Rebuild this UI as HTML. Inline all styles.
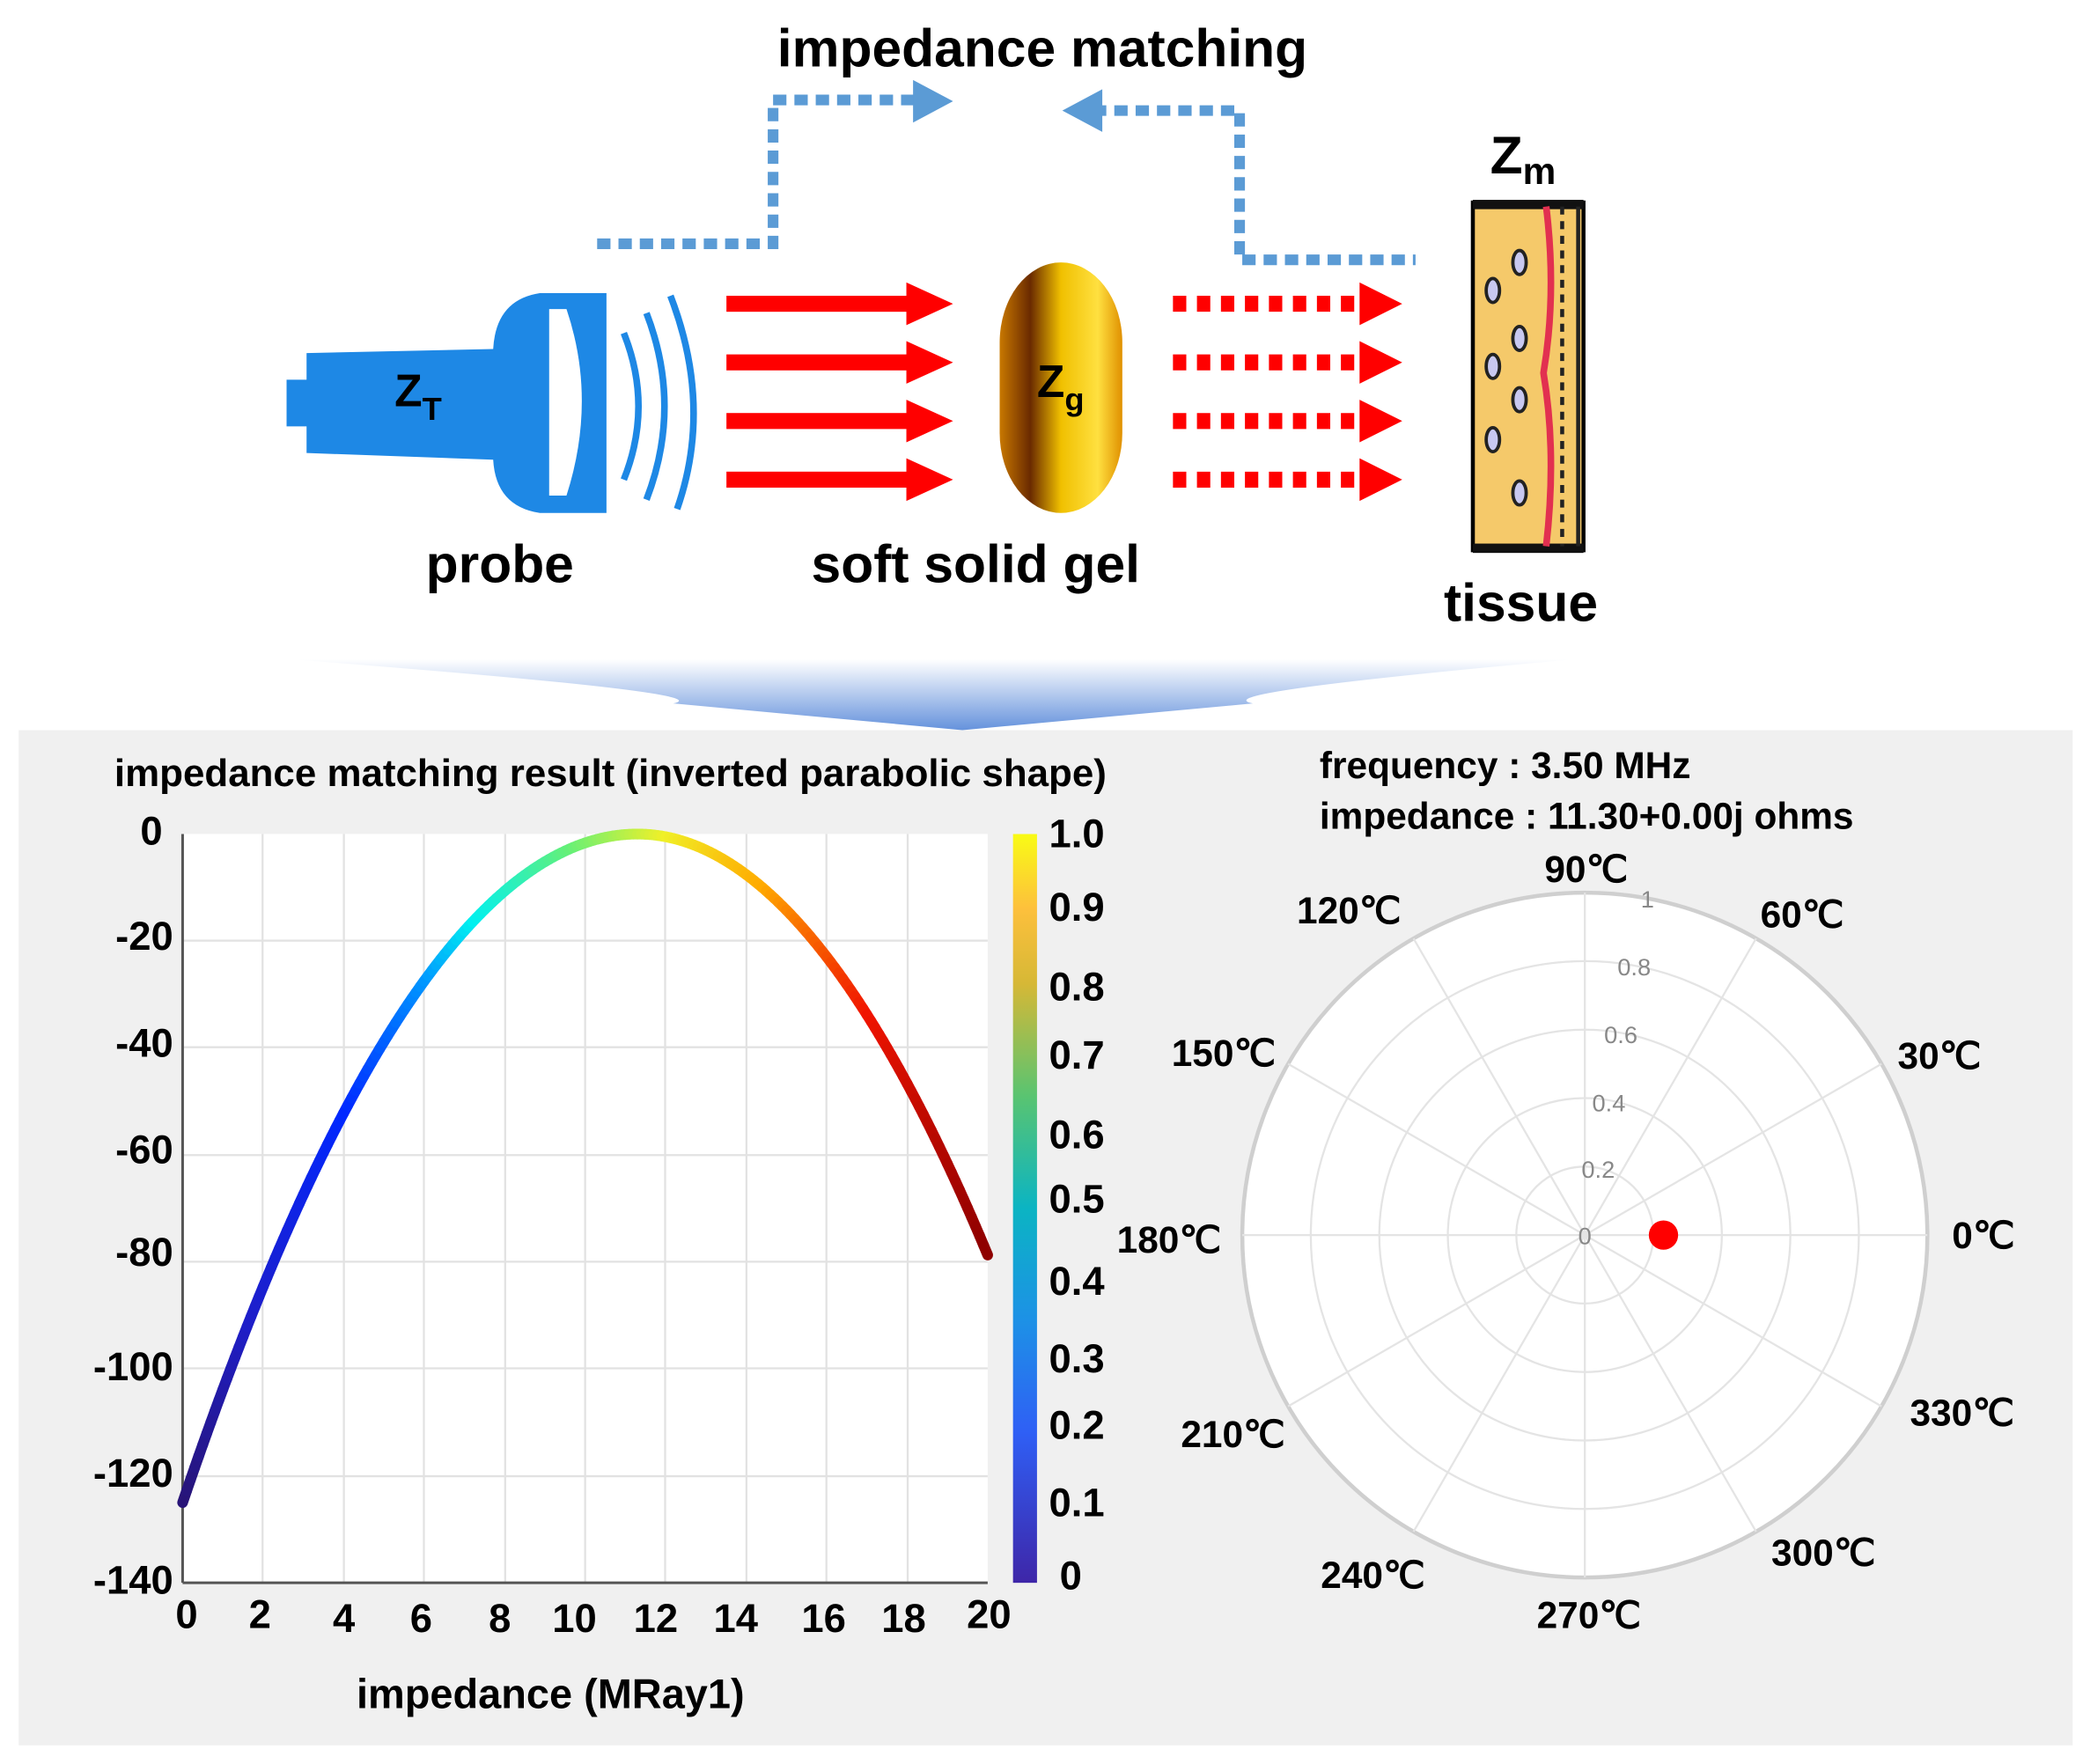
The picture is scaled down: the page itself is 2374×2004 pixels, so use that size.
<!DOCTYPE html>
<html><head><meta charset="utf-8"><style>
html,body{margin:0;padding:0;background:#fff;}
svg{display:block;}
text{font-family:"Liberation Sans",sans-serif;}
</style></head><body>
<svg width="2374" height="2004" viewBox="0 0 1568 1324" preserveAspectRatio="none" xmlns="http://www.w3.org/2000/svg">
<defs>
<linearGradient id="gel" x1="0" y1="0" x2="1" y2="0">
<stop offset="0" stop-color="#c87800"/><stop offset="0.25" stop-color="#6a2a00"/><stop offset="0.5" stop-color="#f0c000"/><stop offset="0.8" stop-color="#ffe040"/><stop offset="1" stop-color="#e09000"/>
</linearGradient>
<linearGradient id="cb" x1="0" y1="1" x2="0" y2="0">
<stop offset="0" stop-color="#3e26a8"/><stop offset="0.2" stop-color="#2f5ff5"/><stop offset="0.35" stop-color="#1d91e6"/><stop offset="0.5" stop-color="#0bb4c3"/><stop offset="0.65" stop-color="#59c471"/><stop offset="0.8" stop-color="#d6b836"/><stop offset="0.9" stop-color="#fdc03c"/><stop offset="1" stop-color="#f9fb15"/>
</linearGradient>
<linearGradient id="band" x1="0" y1="0" x2="0" y2="1">
<stop offset="0" stop-color="#ffffff"/><stop offset="1" stop-color="#4a7fd6"/>
</linearGradient>
</defs>
<rect width="1568" height="1324" fill="#fff"/>
<text x="782" y="50" font-size="40" font-weight="bold" text-anchor="middle">impedance matching</text>
<g fill="none" stroke="#5b9bd5" stroke-width="8" stroke-dasharray="10 6">
<polyline points="448,183 580,183 580,75 690,75"/>
<polyline points="820,83 930,83 930,195 1062,195"/>
</g>
<polygon points="685,60 715,76 685,92" fill="#5b9bd5"/>
<polygon points="827,67 797,83 827,99" fill="#5b9bd5"/>
<path d="M215,285 L230,285 L230,265 L370,262 Q372,225 405,220 L455,220 L455,385 L405,385 Q372,380 370,345 L230,340 L230,320 L215,320 Z" fill="#1e88e5"/>
<path d="M412,232 L425,232 Q448,300 425,372 L412,372 Z" fill="#fff"/>
<g fill="none" stroke="#1e88e5" stroke-width="5">
<path d="M468,250 Q490,305 468,360"/><path d="M485,235 Q512,305 485,375"/><path d="M503,222 Q535,305 508,382"/>
</g>
<text x="296" y="305" font-size="34" font-weight="bold">Z<tspan font-size="24" dy="10">T</tspan></text>
<g fill="#ff0000">
<rect x="545" y="222" width="140" height="12"/><polygon points="680,212 715,228 680,244"/>
<rect x="545" y="266" width="140" height="12"/><polygon points="680,256 715,272 680,288"/>
<rect x="545" y="310" width="140" height="12"/><polygon points="680,300 715,316 680,332"/>
<rect x="545" y="354" width="140" height="12"/><polygon points="680,344 715,360 680,376"/>
<polygon points="1020,212 1052,228 1020,244"/><polygon points="1020,256 1052,272 1020,288"/>
<polygon points="1020,300 1052,316 1020,332"/><polygon points="1020,344 1052,360 1020,376"/>
</g>
<g stroke="#ff0000" stroke-width="12" stroke-dasharray="10 8">
<line x1="880" y1="228" x2="1022" y2="228"/><line x1="880" y1="272" x2="1022" y2="272"/>
<line x1="880" y1="316" x2="1022" y2="316"/><line x1="880" y1="360" x2="1022" y2="360"/>
</g>
<rect x="750" y="197" width="92" height="188" rx="46" ry="60" fill="url(#gel)"/>
<text x="778" y="298" font-size="34" font-weight="bold">Z<tspan font-size="24" dy="10">g</tspan></text>
<rect x="1105" y="152" width="83" height="261" fill="#f5c96a" stroke="#000" stroke-width="3"/>
<rect x="1105" y="150" width="83" height="7" fill="#111"/><rect x="1105" y="408" width="83" height="7" fill="#111"/>
<path d="M1160,155 Q1168,220 1158,280 Q1168,340 1160,410" stroke="#e23050" stroke-width="5" fill="none"/>
<line x1="1172" y1="155" x2="1172" y2="410" stroke="#222" stroke-width="3" stroke-dasharray="6 5"/>
<line x1="1184" y1="155" x2="1184" y2="410" stroke="#222" stroke-width="3"/>
<g fill="#c8c8f0" stroke="#222" stroke-width="2.5">
<ellipse cx="1140" cy="197" rx="5" ry="9"/><ellipse cx="1120" cy="218" rx="5" ry="9"/><ellipse cx="1140" cy="254" rx="5" ry="9"/>
<ellipse cx="1120" cy="275" rx="5" ry="9"/><ellipse cx="1140" cy="300" rx="5" ry="9"/><ellipse cx="1120" cy="330" rx="5" ry="9"/>
<ellipse cx="1140" cy="370" rx="5" ry="9"/></g>
<text x="1118" y="130" font-size="40" font-weight="bold">Z<tspan font-size="28" dy="8">m</tspan></text>
<text x="375" y="437" font-size="40" font-weight="bold" text-anchor="middle">probe</text>
<text x="732" y="437" font-size="40" font-weight="bold" text-anchor="middle">soft solid gel</text>
<text x="1141" y="466" font-size="40" font-weight="bold" text-anchor="middle">tissue</text>
<path d="M220,495 L1180,495 Q900,520 940,528 L722,548 L505,528 Q545,520 220,495 Z" fill="url(#band)" opacity="0.85"/>
<rect x="14" y="548" width="1541" height="762" fill="#f0f0f0"/>
<text x="458" y="590" font-size="29" font-weight="bold" text-anchor="middle">impedance matching result (inverted parabolic shape)</text>
<rect x="137" y="626" width="604" height="562" fill="#fff"/>
<g stroke="#e2e2e2" stroke-width="1.5">
<line x1="197" y1="626" x2="197" y2="1188"/><line x1="258" y1="626" x2="258" y2="1188"/><line x1="318" y1="626" x2="318" y2="1188"/>
<line x1="379" y1="626" x2="379" y2="1188"/><line x1="439" y1="626" x2="439" y2="1188"/><line x1="499" y1="626" x2="499" y2="1188"/>
<line x1="560" y1="626" x2="560" y2="1188"/><line x1="620" y1="626" x2="620" y2="1188"/><line x1="681" y1="626" x2="681" y2="1188"/>
<line x1="137" y1="706" x2="741" y2="706"/><line x1="137" y1="786" x2="741" y2="786"/><line x1="137" y1="867" x2="741" y2="867"/>
<line x1="137" y1="947" x2="741" y2="947"/><line x1="137" y1="1027" x2="741" y2="1027"/><line x1="137" y1="1108" x2="741" y2="1108"/>
</g>
<line x1="137" y1="626" x2="137" y2="1188" stroke="#555" stroke-width="2"/>
<line x1="137" y1="1188" x2="741" y2="1188" stroke="#555" stroke-width="2"/>
<g id="curve" stroke-linecap="round" fill="none" stroke-width="8"></g>
<g font-size="30" font-weight="bold" text-anchor="end">
<text x="122" y="634">0</text><text x="130" y="713">-20</text><text x="130" y="793">-40</text><text x="130" y="873">-60</text>
<text x="130" y="950">-80</text><text x="130" y="1036">-100</text><text x="130" y="1116">-120</text><text x="130" y="1196">-140</text>
</g>
<g font-size="30" font-weight="bold" text-anchor="middle">
<text x="140" y="1222">0</text><text x="195" y="1222">2</text><text x="258" y="1225">4</text><text x="316" y="1225">6</text>
<text x="375" y="1225">8</text><text x="431" y="1225">10</text><text x="492" y="1225">12</text><text x="552" y="1225">14</text>
<text x="618" y="1225">16</text><text x="678" y="1225">18</text><text x="742" y="1222">20</text>
</g>
<text x="413" y="1282" font-size="31" font-weight="bold" text-anchor="middle">impedance  (MRay1)</text>
<rect x="760" y="626" width="18" height="562" fill="url(#cb)"/>
<g font-size="30" font-weight="bold">
<text x="787" y="636">1.0</text><text x="787" y="691">0.9</text><text x="787" y="751">0.8</text><text x="787" y="802">0.7</text>
<text x="787" y="862">0.6</text><text x="787" y="910">0.5</text><text x="787" y="972">0.4</text><text x="787" y="1030">0.3</text>
<text x="787" y="1080">0.2</text><text x="787" y="1138">0.1</text><text x="795" y="1193">0</text>
</g>
<text x="990" y="584" font-size="28" font-weight="bold">frequency : 3.50 MHz</text>
<text x="990" y="622" font-size="28" font-weight="bold">impedance :  11.30+0.00j ohms</text>
<circle cx="1189" cy="927" r="257" fill="#fff" stroke="#cfcfcf" stroke-width="3"/>
<g fill="none" stroke="#e4e4e4" stroke-width="1.5">
<circle cx="1189" cy="927" r="51.4"/><circle cx="1189" cy="927" r="102.8"/><circle cx="1189" cy="927" r="154.2"/><circle cx="1189" cy="927" r="205.6"/>
<line x1="932" y1="927" x2="1446" y2="927"/><line x1="1189" y1="670" x2="1189" y2="1184"/>
<line x1="966.4" y1="798.5" x2="1411.6" y2="1055.5"/><line x1="966.4" y1="1055.5" x2="1411.6" y2="798.5"/>
<line x1="1060.5" y1="704.4" x2="1317.5" y2="1149.6"/><line x1="1060.5" y1="1149.6" x2="1317.5" y2="704.4"/>
</g>
<g font-size="18" fill="#888" text-anchor="middle">
<text x="1236" y="681">1</text><text x="1226" y="732">0.8</text><text x="1216" y="783">0.6</text><text x="1207" y="834">0.4</text><text x="1199" y="884">0.2</text><text x="1189" y="934">0</text>
</g>
<circle cx="1248" cy="927" r="11" fill="#ff0000"/>
<g font-size="28" font-weight="bold" text-anchor="middle">
<text x="1190" y="662">90℃</text><text x="1352" y="696">60℃</text><text x="1455" y="802">30℃</text><text x="1488" y="937">0℃</text>
<text x="1472" y="1070">330℃</text><text x="1368" y="1175">300℃</text><text x="1192" y="1222">270℃</text><text x="1030" y="1192">240℃</text>
<text x="925" y="1086">210℃</text><text x="877" y="940">180℃</text><text x="918" y="800">150℃</text><text x="1012" y="693">120℃</text>
</g>
</svg>
<script>
(function(){
var g=document.getElementById('curve');var ns='http://www.w3.org/2000/svg';
var stops=[[0,[40,20,120]],[0.08,[30,30,200]],[0.2,[0,40,255]],[0.3,[0,150,255]],[0.36,[0,240,240]],[0.48,[100,240,120]],[0.6,[240,240,40]],[0.72,[255,170,0]],[0.85,[240,20,0]],[1,[140,0,0]]];
function col(t){for(var i=1;i<stops.length;i++){if(t<=stops[i][0]){var a=stops[i-1],b=stops[i];var f=(t-a[0])/(b[0]-a[0]);var c=a[1].map(function(v,k){return Math.round(v+(b[1][k]-v)*f)});return 'rgb('+c+')';}}return 'rgb(140,0,0)';}
function Y(x){var a=x<11.3?0.979:1.04;return -a*(x-11.3)*(x-11.3);}
function px(x){return 137+x*30.2;}function py(y){return 626-y*4.014;}
var N=200;for(var i=0;i<N;i++){var x0=20*i/N,x1=20*(i+1)/N;var l=document.createElementNS(ns,'line');
l.setAttribute('x1',px(x0));l.setAttribute('y1',py(Y(x0)));l.setAttribute('x2',px(x1));l.setAttribute('y2',py(Y(x1)));
l.setAttribute('stroke',col(i/N));g.appendChild(l);}
})();
</script>
</body></html>
